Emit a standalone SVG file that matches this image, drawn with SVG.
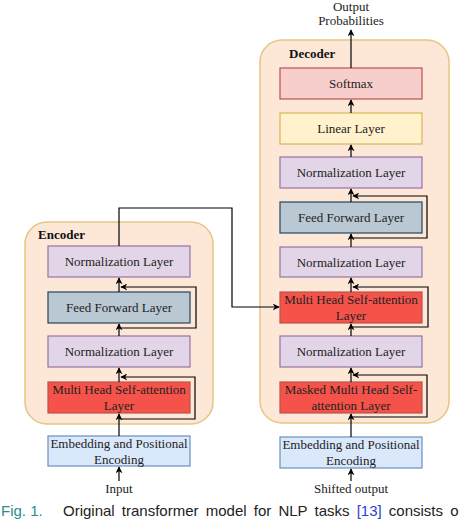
<svg xmlns="http://www.w3.org/2000/svg" width="474" height="520" viewBox="0 0 474 520">
<defs>
<marker id="ah" viewBox="0 0 10 10" refX="9" refY="5" markerWidth="7" markerHeight="7" orient="auto-start-reverse" markerUnits="userSpaceOnUse">
<path d="M0,0 L10,5 L0,10 L3,5 Z" fill="#000"/>
</marker>
<style>
.t{font-family:"Liberation Serif","Times New Roman",serif;font-size:13px;fill:#222;text-anchor:middle}
.title{font-family:"Liberation Serif","Times New Roman",serif;font-size:13px;font-weight:bold;fill:#111}
.cont{fill:#fde8d7;stroke:#e5c684;stroke-width:1.5}
.norm{fill:#e1d5e7;stroke:#9673a6;stroke-width:1.2}
.ff{fill:#bac8d3;stroke:#23445d;stroke-width:1.2}
.mh{fill:#f5534a;stroke:#b85450;stroke-width:1.2}
.emb{fill:#dae8fc;stroke:#6c8ebf;stroke-width:1.2}
.sm{fill:#f8cecc;stroke:#b85450;stroke-width:1.2}
.lin{fill:#fff2cc;stroke:#d6b656;stroke-width:1.2}
.c{fill:none;stroke:#000;stroke-width:1.2}
.cap{font-family:"Liberation Sans",Arial,sans-serif;font-size:15px;fill:#222}
</style>
</defs>
<rect width="474" height="520" fill="#fff"/>

<g id="encoder">
<rect class="cont" x="25" y="222" width="188" height="202" rx="22"/>
<text class="title" x="38" y="239">Encoder</text>
</g>
<g id="decoder">
<rect class="cont" x="260" y="40" width="189" height="383" rx="22"/>
<text class="title" x="289" y="58">Decoder</text>
</g>

<g id="enc-norm2"><rect class="norm" x="48" y="246" width="142" height="31"/><text class="t" x="119" y="266">Normalization Layer</text></g>
<g id="enc-ff"><rect class="ff" x="48" y="292" width="142" height="31"/><text class="t" x="119" y="312">Feed Forward Layer</text></g>
<g id="enc-norm1"><rect class="norm" x="48" y="336" width="142" height="31"/><text class="t" x="119" y="356">Normalization Layer</text></g>
<g id="enc-mh"><rect class="mh" x="48" y="382" width="142" height="31"/><text class="t" x="119" y="394">Multi Head Self-attention</text><text class="t" x="119" y="410">Layer</text></g>
<g id="enc-emb"><rect class="emb" x="48" y="436" width="142" height="30"/><text class="t" x="119" y="448">Embedding and Positional</text><text class="t" x="119" y="464">Encoding</text></g>
<g id="enc-input"><text class="t" x="119" y="493">Input</text></g>

<g id="dec-softmax"><rect class="sm" x="280" y="68" width="142" height="31"/><text class="t" x="351" y="88">Softmax</text></g>
<g id="dec-linear"><rect class="lin" x="280" y="113" width="142" height="31"/><text class="t" x="351" y="133">Linear Layer</text></g>
<g id="dec-norm3"><rect class="norm" x="280" y="157" width="142" height="31"/><text class="t" x="351" y="177">Normalization Layer</text></g>
<g id="dec-ff"><rect class="ff" x="280" y="202" width="142" height="31"/><text class="t" x="351" y="222">Feed Forward Layer</text></g>
<g id="dec-norm2"><rect class="norm" x="280" y="247" width="142" height="30"/><text class="t" x="351" y="267">Normalization Layer</text></g>
<g id="dec-mh"><rect class="mh" x="280" y="292" width="142" height="31"/><text class="t" x="351" y="304">Multi Head Self-attention</text><text class="t" x="351" y="320">Layer</text></g>
<g id="dec-norm1"><rect class="norm" x="280" y="336" width="142" height="31"/><text class="t" x="351" y="356">Normalization Layer</text></g>
<g id="dec-mmh"><rect class="mh" x="280" y="382" width="142" height="31"/><text class="t" x="351" y="394">Masked Multi Head Self-</text><text class="t" x="351" y="410">attention Layer</text></g>
<g id="dec-emb"><rect class="emb" x="280" y="437" width="142" height="31"/><text class="t" x="351" y="449">Embedding and Positional</text><text class="t" x="351" y="465">Encoding</text></g>
<g id="dec-input"><text class="t" x="351" y="493">Shifted output</text></g>
<g id="dec-output"><text class="t" x="351" y="11">Output</text><text class="t" x="351" y="25">Probabilities</text></g>

<g id="connectors">
<!-- encoder -->
<line class="c" x1="119" y1="481" x2="119" y2="467" marker-end="url(#ah)"/>
<line class="c" x1="119" y1="436" x2="119" y2="414" marker-end="url(#ah)"/>
<line class="c" x1="119" y1="382" x2="119" y2="368" marker-end="url(#ah)"/>
<line class="c" x1="119" y1="336" x2="119" y2="324" marker-end="url(#ah)"/>
<line class="c" x1="119" y1="292" x2="119" y2="278" marker-end="url(#ah)"/>
<polyline class="c" points="119,419 195,419 195,377 121,377" marker-end="url(#ah)"/>
<polyline class="c" points="119,328 196,328 196,287 121,287" marker-end="url(#ah)"/>
<polyline class="c" points="119,246 119,208 232,208 232,307 279,307" marker-end="url(#ah)"/>
<!-- decoder -->
<line class="c" x1="351" y1="481" x2="351" y2="469" marker-end="url(#ah)"/>
<line class="c" x1="351" y1="437" x2="351" y2="414" marker-end="url(#ah)"/>
<line class="c" x1="351" y1="382" x2="351" y2="368" marker-end="url(#ah)"/>
<line class="c" x1="351" y1="336" x2="351" y2="324" marker-end="url(#ah)"/>
<line class="c" x1="351" y1="292" x2="351" y2="278" marker-end="url(#ah)"/>
<line class="c" x1="351" y1="247" x2="351" y2="234" marker-end="url(#ah)"/>
<line class="c" x1="351" y1="202" x2="351" y2="189" marker-end="url(#ah)"/>
<line class="c" x1="351" y1="157" x2="351" y2="145" marker-end="url(#ah)"/>
<line class="c" x1="351" y1="113" x2="351" y2="100" marker-end="url(#ah)"/>
<line class="c" x1="351" y1="68" x2="351" y2="30" marker-end="url(#ah)"/>
<polyline class="c" points="351,417 427,417 427,375 353,375" marker-end="url(#ah)"/>
<polyline class="c" points="351,327 428,327 428,287 353,287" marker-end="url(#ah)"/>
<polyline class="c" points="351,238 427,238 427,196 353,196" marker-end="url(#ah)"/>
</g>

<g id="caption">
<text class="cap" x="1" y="516" style="fill:#2a8c8c">Fig. 1.</text>
<text class="cap" x="63" y="516" word-spacing="3">Original transformer model for NLP tasks <tspan style="fill:#2a3fd0">[13]</tspan> consists o</text>
</g>
</svg>
